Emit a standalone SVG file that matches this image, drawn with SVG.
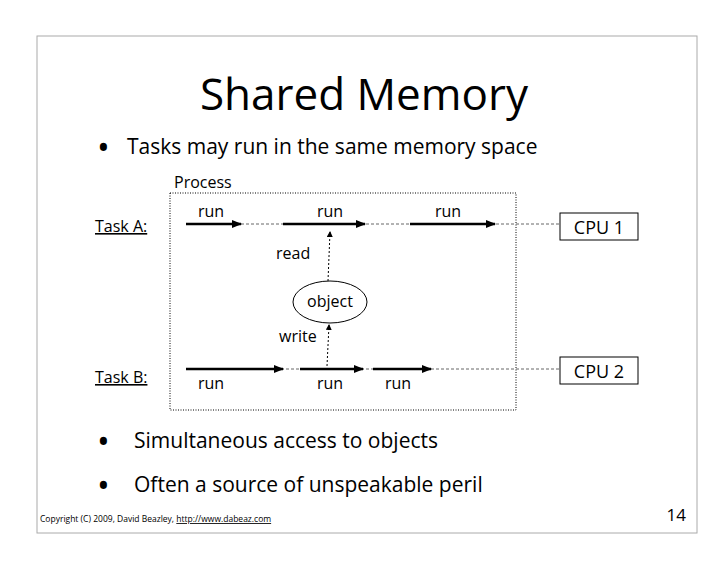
<svg xmlns="http://www.w3.org/2000/svg" width="728" height="563" viewBox="0 0 728 563">
<defs>
<style>
text{font-family:"Open Sans","Liberation Sans",sans-serif;fill:#000}
.lbl{font-size:16px}
.run{stroke:#000;stroke-width:2.5;fill:none}
.dash{stroke:#666;stroke-width:1;stroke-dasharray:3,2;fill:none}
.dot{stroke:#000;stroke-width:1;stroke-dasharray:2,2;fill:none}
.box{fill:#fff;stroke:#000;stroke-width:1}
.bul{font-size:34px}
</style>
<marker id="ah" markerWidth="10" markerHeight="8" refX="9" refY="4" orient="auto" markerUnits="userSpaceOnUse"><path d="M0,0 L10,4 L0,8 Z" fill="#000"/></marker>
<marker id="sa" markerWidth="6" markerHeight="6" refX="5" refY="3" orient="auto" markerUnits="userSpaceOnUse"><path d="M0,0 L6,3 L0,6 Z" fill="#000"/></marker>
</defs>
<rect x="37" y="36" width="660" height="497" fill="#fff" stroke="#aaa" stroke-width="1"/>
<text x="364" y="110" text-anchor="middle" font-size="44">Shared Memory</text>
<text x="97" y="160" class="bul">•</text><text x="127" y="154" font-size="21">Tasks may run in the same memory space</text>
<text x="97" y="454" class="bul">•</text><text x="134" y="448" font-size="21">Simultaneous access to objects</text>
<text x="97" y="498" class="bul">•</text><text x="134" y="492" font-size="21">Often a source of unspeakable peril</text>
<text x="40" y="522" font-size="8.5">Copyright (C) 2009,  David Beazley, <tspan text-decoration="underline">http://www.dabeaz.com</tspan></text>
<text x="686" y="521" text-anchor="end" font-size="17">14</text>
<g id="process">
<rect x="170" y="193" width="346" height="217" fill="none" stroke="#000" stroke-width="1" stroke-dasharray="1,1.5"/>
<text x="174" y="188" class="lbl">Process</text>
</g>
<g id="labels">
<text x="95" y="232" class="lbl" text-decoration="underline">Task A:</text>
<text x="95" y="383" class="lbl" text-decoration="underline">Task B:</text>
<text x="211" y="217" class="lbl" text-anchor="middle">run</text>
<text x="330" y="217" class="lbl" text-anchor="middle">run</text>
<text x="448" y="217" class="lbl" text-anchor="middle">run</text>
<text x="211" y="389" class="lbl" text-anchor="middle">run</text>
<text x="330" y="389" class="lbl" text-anchor="middle">run</text>
<text x="398" y="389" class="lbl" text-anchor="middle">run</text>
<text x="276" y="259" class="lbl">read</text>
<text x="279" y="342" class="lbl">write</text>
</g>
<g id="cpu1"><rect x="560" y="213" width="78" height="27" class="box"/><text x="599" y="234" text-anchor="middle" font-size="18">CPU 1</text></g>
<g id="cpu2"><rect x="560" y="357" width="78" height="27" class="box"/><text x="599" y="378" text-anchor="middle" font-size="18">CPU 2</text></g>
<g id="object"><ellipse cx="330" cy="302" rx="37" ry="21" class="box"/><text x="330" y="307" class="lbl" text-anchor="middle">object</text></g>
<g id="connectors">
<line x1="186" y1="224" x2="560" y2="224" class="dash"/>
<line x1="186" y1="369" x2="560" y2="369" class="dash"/>
<line x1="186" y1="224" x2="241" y2="224" class="run" marker-end="url(#ah)"/>
<line x1="283" y1="224" x2="365" y2="224" class="run" marker-end="url(#ah)"/>
<line x1="410" y1="224" x2="495" y2="224" class="run" marker-end="url(#ah)"/>
<line x1="186" y1="369" x2="283" y2="369" class="run" marker-end="url(#ah)"/>
<line x1="300" y1="369" x2="363" y2="369" class="run" marker-end="url(#ah)"/>
<line x1="373" y1="369" x2="431" y2="369" class="run" marker-end="url(#ah)"/>
<line x1="328" y1="281" x2="330" y2="232" class="dot" marker-end="url(#sa)"/>
<line x1="327" y1="366" x2="329" y2="325" class="dot" marker-end="url(#sa)"/>
</g>
</svg>
